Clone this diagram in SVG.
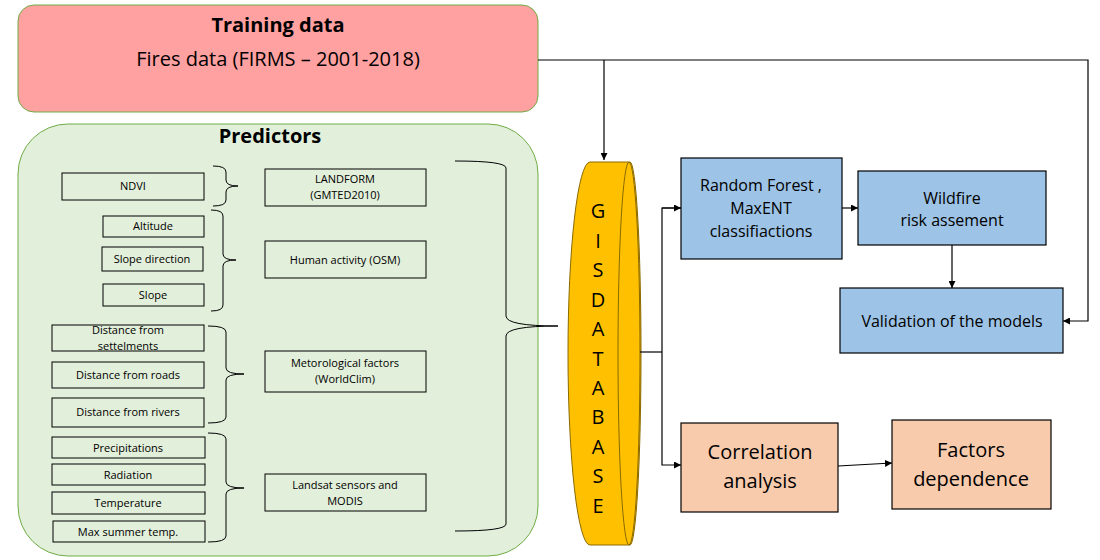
<svg xmlns="http://www.w3.org/2000/svg" width="1100" height="560" viewBox="0 0 1100 560">
<defs>
<marker id="ah" viewBox="0 0 10 10" refX="10" refY="5" markerWidth="7" markerHeight="7" orient="auto" markerUnits="userSpaceOnUse"><path d="M0,0 L10,5 L0,10 Z" fill="#000"/></marker>
<style>
text{font-family:"Open Sans","Liberation Sans",sans-serif;fill:#000;text-anchor:middle}
.sm{fill:#fff;fill-opacity:0;stroke:#000;stroke-width:1}
.s{font-size:11px}
.b{fill:#9dc3e6;stroke:#000;stroke-width:1.2}
.o{fill:#f8cbad;stroke:#000;stroke-width:1.2}
.br{fill:none;stroke:#000;stroke-width:1}
.c{fill:none;stroke:#000;stroke-width:1.2}
</style>
</defs>
<g id="training"><rect x="18" y="5" width="520" height="107" rx="16" fill="#ffa1a1" stroke="#70ad47"/>
<text x="278" y="32" font-size="20" font-weight="bold">Training data</text>
<text x="278" y="66" font-size="20">Fires data (FIRMS – 2001-2018)</text></g>
<g id="predictors"><rect x="18" y="124" width="520" height="432" rx="50" fill="#e2efda" stroke="#70ad47"/>
<text x="270" y="143" font-size="20" font-weight="bold">Predictors</text>
<rect class="sm" x="62" y="173" width="142" height="27"/><text class="s" x="133" y="190">NDVI</text>
<rect class="sm" x="103" y="216" width="101" height="21"/><text class="s" x="153" y="230">Altitude</text>
<rect class="sm" x="102" y="247" width="101" height="24"/><text class="s" x="152" y="263">Slope direction</text>
<rect class="sm" x="103" y="284" width="101" height="22"/><text class="s" x="153" y="299">Slope</text>
<rect class="sm" x="52" y="325" width="152" height="26"/><text class="s" x="128" y="334">Distance from</text><text class="s" x="128" y="350">settelments</text>
<rect class="sm" x="52" y="362" width="152" height="26"/><text class="s" x="128" y="379">Distance from roads</text>
<rect class="sm" x="52" y="398" width="152" height="29"/><text class="s" x="128" y="416">Distance from rivers</text>
<rect class="sm" x="52" y="437" width="153" height="21"/><text class="s" x="128" y="452">Precipitations</text>
<rect class="sm" x="52" y="464" width="153" height="21"/><text class="s" x="128" y="479">Radiation</text>
<rect class="sm" x="52" y="492" width="153" height="22"/><text class="s" x="128" y="507">Temperature</text>
<rect class="sm" x="53" y="521" width="152" height="21"/><text class="s" x="128" y="536">Max summer temp.</text>
<rect class="sm" x="265" y="169" width="161" height="37"/><text class="s" x="345" y="183">LANDFORM</text><text class="s" x="345" y="199">(GMTED2010)</text>
<rect class="sm" x="265" y="241" width="161" height="37"/><text class="s" x="345" y="264">Human activity (OSM)</text>
<rect class="sm" x="265" y="351" width="161" height="41"/><text class="s" x="345" y="367">Metorological factors</text><text class="s" x="345" y="383">(WorldClim)</text>
<rect class="sm" x="265" y="474" width="161" height="37"/><text class="s" x="345" y="489">Landsat sensors and</text><text class="s" x="345" y="505">MODIS</text>
<path class="br" d="M213,166 Q226,166 226,172 V180 Q226,186 238,186 Q226,186 226,192 V200 Q226,206 213,206"/>
<path class="br" d="M211,210 Q223,210 223,216 V254 Q223,260 236,260 Q223,260 223,266 V305 Q223,311 211,311"/>
<path class="br" d="M208,326 Q226,326 226,332 V368 Q226,374 244,374 Q226,374 226,380 V417 Q226,423 208,423"/>
<path class="br" d="M208,433 Q226,433 226,439 V482 Q226,488 244,488 Q226,488 226,494 V536 Q226,542 208,542"/>
<path class="br" d="M455,161 Q506,161 506,168 V316 Q506,326 558,326 Q506,326 506,336 V524 Q506,531 455,531"/>
</g>
<g id="gis">
<path d="M590,162 H630 A11,191.5 0 0 1 630,545 H590 A22,191.5 0 0 1 590,162 Z" fill="#ffc000" stroke="#8a6a00"/>
<ellipse cx="629" cy="353.5" rx="11" ry="191.5" fill="#ffc000" stroke="#8a6a00"/>
<g font-size="20"><text x="598" y="218">G</text><text x="598" y="248">I</text><text x="598" y="277">S</text><text x="598" y="307">D</text><text x="598" y="336">A</text><text x="598" y="366">T</text><text x="598" y="395">A</text><text x="598" y="424">B</text><text x="598" y="454">A</text><text x="598" y="483">S</text><text x="598" y="513">E</text></g>
</g>
<g id="rf"><rect class="b" x="681" y="158" width="161" height="101"/><text x="761" y="191" font-size="16">Random Forest ,</text><text x="761" y="214" font-size="16">MaxENT</text><text x="761" y="237" font-size="16">classifiactions</text></g>
<g id="wildfire"><rect class="b" x="858" y="171" width="188" height="74"/><text x="952" y="204" font-size="16">Wildfire</text><text x="952" y="226" font-size="16">risk assement</text></g>
<g id="validation"><rect class="b" x="840" y="288" width="223" height="65"/><text x="952" y="327" font-size="16">Validation of the models</text></g>
<g id="correlation"><rect class="o" x="681" y="423" width="157" height="89"/><text x="760" y="459" font-size="20">Correlation</text><text x="760" y="488" font-size="20">analysis</text></g>
<g id="factors"><rect class="o" x="892" y="420" width="159" height="89"/><text x="971" y="457" font-size="20">Factors</text><text x="971" y="486" font-size="20">dependence</text></g>
<g id="connectors">
<path class="c" d="M538,60 H1088 V321 H1063" marker-end="url(#ah)"/>
<path class="c" d="M604,60 V160" marker-end="url(#ah)"/>
<path class="c" d="M640,352 H662"/>
<path class="c" d="M681,208 H662 V465 H681" marker-end="url(#ah)"/>
<path class="c" d="M662,208 H681" marker-end="url(#ah)"/>
<path class="c" d="M842,208 H858" marker-end="url(#ah)"/>
<path class="c" d="M952,245 V288" marker-end="url(#ah)"/>
<path class="c" d="M838,466 L892,463" marker-end="url(#ah)"/>
</g>
</svg>
